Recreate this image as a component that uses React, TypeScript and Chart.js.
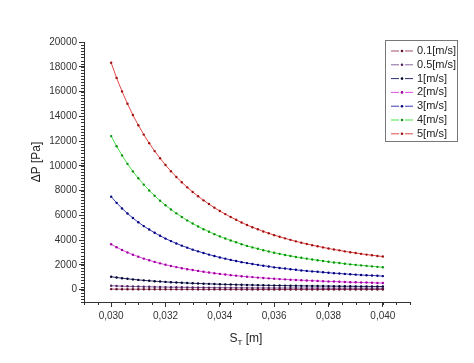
import React, { useEffect, useRef } from "react";
import { Chart, registerables } from "chart.js";

Chart.register(...registerables);

const S_VALUES = [
  0.0300, 0.0302, 0.0304, 0.0306, 0.0308, 0.0310, 0.0312, 0.0314, 0.0316, 0.0318,
  0.0320, 0.0322, 0.0324, 0.0326, 0.0328, 0.0330, 0.0332, 0.0334, 0.0336, 0.0338,
  0.0340, 0.0342, 0.0344, 0.0346, 0.0348, 0.0350, 0.0352, 0.0354, 0.0356, 0.0358,
  0.0360, 0.0362, 0.0364, 0.0366, 0.0368, 0.0370, 0.0372, 0.0374, 0.0376, 0.0378,
  0.0380, 0.0382, 0.0384, 0.0386, 0.0388, 0.0390, 0.0392, 0.0394, 0.0396, 0.0398,
  0.0400,
];

const V01 = [
  40, 37, 35, 34, 32, 30, 29, 27, 26, 25,
  24, 23, 22, 21, 21, 20, 19, 19, 18, 18,
  17, 17, 16, 16, 15, 15, 15, 14, 14, 14,
  13, 13, 13, 13, 12, 12, 12, 12, 12, 11,
  11, 11, 11, 11, 11, 11, 10, 10, 10, 10,
  10,
];

const V05 = [
  310, 295, 281, 268, 256, 246, 236, 227, 219, 212,
  205, 198, 192, 187, 182, 177, 172, 168, 164, 161,
  157, 154, 151, 148, 145, 143, 140, 138, 136, 134,
  132, 131, 129, 127, 126, 124, 123, 122, 121, 120,
  118, 117, 117, 115, 115, 114, 113, 112, 112, 111,
  110,
];

const V1 = [
  1040, 978, 923, 873, 827, 785, 747, 712, 680, 650,
  623, 597, 574, 553, 532, 513, 496, 479, 464, 449,
  435, 423, 411, 400, 389, 378, 369, 361, 352, 345,
  337, 331, 324, 318, 312, 306, 301, 296, 292, 287,
  283, 279, 275, 271, 267, 264, 261, 258, 255, 252,
  250,
];

const V2 = [
  3660, 3420, 3200, 3000, 2820, 2660, 2500, 2370, 2240, 2120,
  2010, 1910, 1820, 1730, 1650, 1580, 1510, 1440, 1380, 1320,
  1270, 1220, 1170, 1130, 1080, 1040, 1010, 970, 940, 910,
  880, 850, 830, 800, 780, 760, 740, 720, 700, 680,
  660, 650, 630, 620, 600, 590, 580, 570, 560, 540,
  530,
];

const V3 = [
  7510, 7010, 6560, 6150, 5780, 5440, 5130, 4850, 4590, 4350,
  4120, 3920, 3730, 3550, 3390, 3230, 3090, 2960, 2830, 2710,
  2600, 2500, 2400, 2310, 2220, 2140, 2070, 2000, 1930, 1870,
  1800, 1750, 1700, 1650, 1600, 1550, 1510, 1470, 1440, 1400,
  1360, 1330, 1300, 1270, 1240, 1210, 1180, 1160, 1140, 1120,
  1090,
];

const V4 = [
  12400, 11580, 10840, 10160, 9550, 8990, 8480, 8010, 7580, 7180,
  6810, 6470, 6160, 5870, 5590, 5340, 5100, 4880, 4680, 4480,
  4300, 4130, 3970, 3820, 3670, 3530, 3410, 3300, 3180, 3080,
  2980, 2890, 2800, 2720, 2640, 2570, 2500, 2430, 2370, 2310,
  2250, 2190, 2150, 2090, 2040, 2000, 1960, 1920, 1880, 1840,
  1810,
];

const V5 = [
  18320, 17100, 16010, 15010, 14100, 13280, 12520, 11830, 11190, 10610,
  10060, 9560, 9100, 8670, 8260, 7890, 7540, 7210, 6910, 6620,
  6350, 6100, 5860, 5640, 5420, 5220, 5040, 4870, 4700, 4550,
  4400, 4270, 4140, 4020, 3900, 3790, 3690, 3590, 3500, 3410,
  3320, 3240, 3170, 3090, 3020, 2960, 2890, 2830, 2780, 2720,
  2670,
];

const SERIES_LABELS = ["0.1[m/s]", "0.5[m/s]", "1[m/s]", "2[m/s]", "3[m/s]", "4[m/s]", "5[m/s]"];
const SERIES_VALUES = [V01, V05, V1, V2, V3, V4, V5];
const LINE_COLORS = ["#a0506a", "#8a64a0", "#30306a", "#e050e0", "#3838b8", "#48e048", "#e04848"];
const POINT_COLORS = ["#601030", "#502060", "#000030", "#a000a0", "#000080", "#109010", "#a01010"];

const X_TICKS = [0.030, 0.032, 0.034, 0.036, 0.038, 0.040];
const Y_TICKS = [0, 2000, 4000, 6000, 8000, 10000, 12000, 14000, 16000, 18000, 20000];

const FONT = "'Liberation Sans', Arial, sans-serif";

const decorPlugin = {
  id: "decor",
  afterDraw(chart: any) {
    const ctx = chart.ctx as CanvasRenderingContext2D;
    const xs = chart.scales.x;
    const ys = chart.scales.y;
    const area = chart.chartArea;
    ctx.save();
    // minor ticks
    ctx.strokeStyle = "#333";
    ctx.lineWidth = 1;
    ctx.beginPath();
    for (let i = 0; i <= 24; i++) {
      const v = 0.029 + i * 0.0005;
      const px = Math.round(xs.getPixelForValue(v)) + 0.5;
      ctx.moveTo(px, area.bottom);
      ctx.lineTo(px, area.bottom + 3);
    }
    for (let i = 0; i <= 84; i++) {
      const v = -1000 + i * 250;
      const py = Math.round(ys.getPixelForValue(v)) + 0.5;
      ctx.moveTo(area.left, py);
      ctx.lineTo(area.left - 3, py);
    }
    ctx.stroke();

    // y title
    ctx.fillStyle = "#222";
    ctx.font = `12px ${FONT}`;
    ctx.textAlign = "center";
    ctx.textBaseline = "middle";
    ctx.save();
    ctx.translate(37, 162);
    ctx.rotate(-Math.PI / 2);
    ctx.fillText("ΔP [Pa]", 0, 0);
    ctx.restore();

    // x title with subscript
    ctx.textAlign = "left";
    ctx.textBaseline = "alphabetic";
    const big = `12px ${FONT}`;
    const small = `8px ${FONT}`;
    ctx.font = big;
    const wS = ctx.measureText("S").width;
    const wRest = ctx.measureText(" [m]").width;
    ctx.font = small;
    const wT = ctx.measureText("T").width;
    const total = wS + wT + wRest;
    let x0 = 246 - total / 2;
    const base = 342;
    ctx.font = big;
    ctx.fillText("S", x0, base);
    x0 += wS;
    ctx.font = small;
    ctx.fillText("T", x0, base + 3);
    x0 += wT;
    ctx.font = big;
    ctx.fillText(" [m]", x0, base);

    // legend
    const lx = 385.5, ly = 40.5, lw = 72, lh = 101;
    ctx.strokeStyle = "#777";
    ctx.lineWidth = 1;
    ctx.strokeRect(lx, ly, lw, lh);
    ctx.font = `11px ${FONT}`;
    ctx.textBaseline = "middle";
    for (let i = 0; i < SERIES_LABELS.length; i++) {
      const yy = 51 + i * 13.8;
      ctx.strokeStyle = LINE_COLORS[i];
      ctx.beginPath();
      ctx.moveTo(391, yy);
      ctx.lineTo(399, yy);
      ctx.moveTo(405, yy);
      ctx.lineTo(413, yy);
      ctx.stroke();
      ctx.fillStyle = POINT_COLORS[i];
      ctx.beginPath();
      ctx.arc(402, yy, 1.3, 0, Math.PI * 2);
      ctx.fill();
      ctx.fillStyle = "#222";
      ctx.fillText(SERIES_LABELS[i], 417, yy);
    }
    ctx.restore();
  },
};

export default function App() {
  const ref = useRef<HTMLCanvasElement | null>(null);
  useEffect(() => {
    document.body.style.margin = "0";
    const canvas = ref.current;
    if (!canvas) return;
    const datasets = SERIES_LABELS.map((label, i) => ({
      label,
      data: S_VALUES.map((s, j) => ({ x: s, y: SERIES_VALUES[i][j] })),
      borderColor: LINE_COLORS[i],
      backgroundColor: POINT_COLORS[i],
      pointBackgroundColor: POINT_COLORS[i],
      pointBorderWidth: 0,
      pointRadius: 1.2,
      borderWidth: 1,
      tension: 0,
      fill: false,
    }));
    const chart = new Chart(canvas, {
      type: "line",
      data: { datasets },
      plugins: [decorPlugin],
      options: {
        animation: false,
        responsive: false,
        events: [],
        layout: { padding: { top: 42, right: 64, bottom: 0, left: 0 } },
        plugins: { legend: { display: false }, tooltip: { enabled: false } },
        scales: {
          x: {
            type: "linear",
            min: 0.029,
            max: 0.041,
            afterBuildTicks: (scale: any) => {
              scale.ticks = X_TICKS.map((v) => ({ value: v }));
            },
            afterFit: (scale: any) => {
              scale.height = 61;
            },
            grid: { display: true, drawOnChartArea: false, drawTicks: true, tickLength: 5, color: "#333" },
            border: { display: true, color: "#333", width: 1 },
            ticks: {
              padding: 3,
              color: "#333",
              font: { size: 10, family: FONT },
              maxRotation: 0,
              autoSkip: false,
              callback: (v: any) => Number(v).toFixed(3).replace(".", ","),
            },
          },
          y: {
            type: "linear",
            min: -1000,
            max: 20000,
            afterBuildTicks: (scale: any) => {
              scale.ticks = Y_TICKS.map((v) => ({ value: v }));
            },
            afterFit: (scale: any) => {
              scale.width = 84;
            },
            grid: { display: true, drawOnChartArea: false, drawTicks: true, tickLength: 5, color: "#333" },
            border: { display: true, color: "#333", width: 1 },
            ticks: {
              padding: 2,
              color: "#333",
              font: { size: 10, family: FONT },
              autoSkip: false,
              callback: (v: any) => String(v),
            },
          },
        },
      },
    });
    return () => chart.destroy();
  }, []);
  return <canvas ref={ref} width={474} height={363} style={{ display: "block" }} />;
}
